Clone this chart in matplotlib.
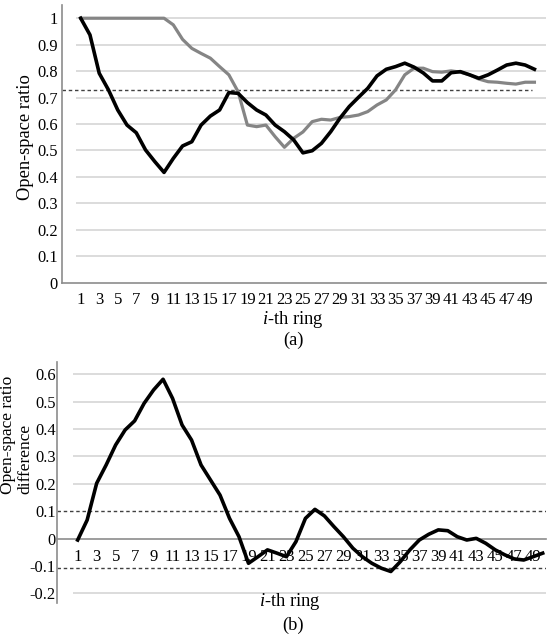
"""
Open-space ratio per ring, and the difference between the two curves.
"""
import matplotlib
matplotlib.use('Agg')
import matplotlib.pyplot as plt

###############################################################################
# Values
rings = list(range(1, 51))

ratio_black = [1.0, 0.937, 0.792, 0.729, 0.653, 0.596, 0.567, 0.502, 0.458, 0.417,
               0.470, 0.517, 0.533, 0.596, 0.630, 0.653, 0.719, 0.716, 0.681, 0.653,
               0.634, 0.596, 0.571, 0.540, 0.491, 0.499, 0.527, 0.571, 0.622, 0.666,
               0.701, 0.735, 0.782, 0.807, 0.817, 0.830, 0.815, 0.793, 0.763, 0.763,
               0.794, 0.798, 0.786, 0.773, 0.786, 0.804, 0.823, 0.830, 0.823, 0.807]

ratio_grey = [1.0, 1.0, 1.0, 1.0, 1.0, 1.0, 1.0, 1.0, 1.0, 1.0,
              0.975, 0.920, 0.886, 0.867, 0.849, 0.817, 0.786, 0.722, 0.596, 0.590,
              0.596, 0.552, 0.512, 0.546, 0.570, 0.609, 0.618, 0.615, 0.625, 0.628,
              0.634, 0.647, 0.672, 0.691, 0.729, 0.786, 0.811, 0.811, 0.798, 0.796,
              0.801, 0.796, 0.786, 0.770, 0.760, 0.758, 0.754, 0.751, 0.758, 0.758]

ratio_diff = [-0.005, 0.068, 0.202, 0.269, 0.342, 0.397, 0.430, 0.494, 0.543, 0.582,
              0.512, 0.415, 0.360, 0.269, 0.214, 0.159, 0.074, 0.007, -0.090, -0.066,
              -0.041, -0.053, -0.066, -0.011, 0.074, 0.107, 0.083, 0.044, 0.007, -0.035,
              -0.066, -0.090, -0.108, -0.120, -0.084, -0.041, -0.005, 0.016, 0.032, 0.029,
              0.007, -0.005, 0.001, -0.017, -0.041, -0.059, -0.074, -0.078, -0.066, -0.053]

threshold_a = 0.729
band_b = [0.1, -0.108]

yticks_a = [0, 0.1, 0.2, 0.3, 0.4, 0.5, 0.6, 0.7, 0.8, 0.9, 1.0]
ylabels_a = ['0', '0.1', '0.2', '0.3', '0.4', '0.5', '0.6', '0.7', '0.8', '0.9', '1']
yticks_b = [-0.2, -0.1, 0, 0.1, 0.2, 0.3, 0.4, 0.5, 0.6]
ylabels_b = ['-0.2', '-0.1', '0', '0.1', '0.2', '0.3', '0.4', '0.5', '0.6']
xticks = rings[::2]

###############################################################################
# Style
plt.rcParams['font.family'] = ['Liberation Serif', 'DejaVu Serif']
plt.rcParams['mathtext.fontset'] = 'custom'
plt.rcParams['mathtext.it'] = 'Liberation Serif:italic'
plt.rcParams['mathtext.rm'] = 'Liberation Serif'

W, H = 550, 637
fig = plt.figure(figsize=(W / 100, H / 100), dpi=100)

grid_c = '#d9d9d9'
axis_c = '#8c8c8c'
xtick_fs = 12
ytick_fs = 11.8
label_fs = 13.3


def px_rect(x0, y0, x1, y1):
    return [x0 / W, 1 - y1 / H, (x1 - x0) / W, (y1 - y0) / H]


def style(ax):
    for s in ('top', 'right'):
        ax.spines[s].set_visible(False)
    for s in ('left', 'bottom'):
        ax.spines[s].set_color(axis_c)
        ax.spines[s].set_linewidth(1.2)
    ax.tick_params(length=0, colors='black')
    ax.tick_params(axis='x', labelsize=xtick_fs)
    ax.tick_params(axis='y', labelsize=ytick_fs)


###############################################################################
# (a)
ax1 = fig.add_axes(px_rect(62, 5, 546, 282.7))
style(ax1)
ax1.set_xlim(-1.02, 51.25)
ax1.set_ylim(0, 1.05)
ax1.hlines(yticks_a[1:], 0.49, 51.25, color=grid_c, lw=1.3, zorder=0)
ax1.plot([-1.02, 49.7], [threshold_a, threshold_a], color='#404040',
         lw=1.0, ls=(0, (2.5, 2)), zorder=1)
ax1.plot(rings, ratio_grey, color='#858585', lw=2.3, zorder=2)
ax1.plot(rings, ratio_black, color='black', lw=2.6, zorder=3)
ax1.set_yticks(yticks_a)
ax1.set_yticklabels(ylabels_a)
ax1.set_xticks(xticks)
ax1.set_xticklabels([str(i) for i in xticks])
ax1.tick_params(axis='x', pad=6.5)
ax1.tick_params(axis='y', pad=3)

fig.text(25 / W, 1 - 137 / H, 'Open-space ratio', rotation=90,
         ha='center', va='center', fontsize=label_fs)
fig.text(293 / W, 1 - 320 / H, '$i$-th ring', ha='center', va='center',
         fontsize=label_fs)
fig.text(293 / W, 1 - 340 / H, '(a)', ha='center', va='center', fontsize=label_fs)

###############################################################################
# (b)
ax2 = fig.add_axes(px_rect(56.7, 362, 546, 603))
style(ax2)
ax2.set_xlim(-1.21, 50.35)
ax2.set_ylim(-0.235, 0.645)
ax2.spines['bottom'].set_position(('data', 0))
ax2.hlines([v for v in yticks_b if abs(v) > 0.15], 0.54, 50.35,
           color=grid_c, lw=1.3, zorder=0)
ax2.hlines(band_b, -1.21, 50.35, color='#404040', lw=1.0,
           linestyles=[(0, (2.5, 2))], zorder=1)
ax2.plot(rings, ratio_diff, color='black', lw=2.6, zorder=3)
ax2.set_yticks(yticks_b)
ax2.set_yticklabels(ylabels_b)
ax2.set_xticks(xticks)
ax2.set_xticklabels([str(i) for i in xticks])
ax2.tick_params(axis='x', pad=7.8)
ax2.tick_params(axis='y', pad=0.8)

fig.text(17 / W, 1 - 494 / H, 'Open-space ratio\ndifference', rotation=90,
         ha='center', va='bottom', multialignment='left', fontsize=12.5,
         linespacing=1.1)
fig.text(290 / W, 1 - 601 / H, '$i$-th ring', ha='center', va='center',
         fontsize=label_fs)
fig.text(293 / W, 1 - 625 / H, '(b)', ha='center', va='center', fontsize=label_fs)

fig.savefig('out.png', dpi=100)
